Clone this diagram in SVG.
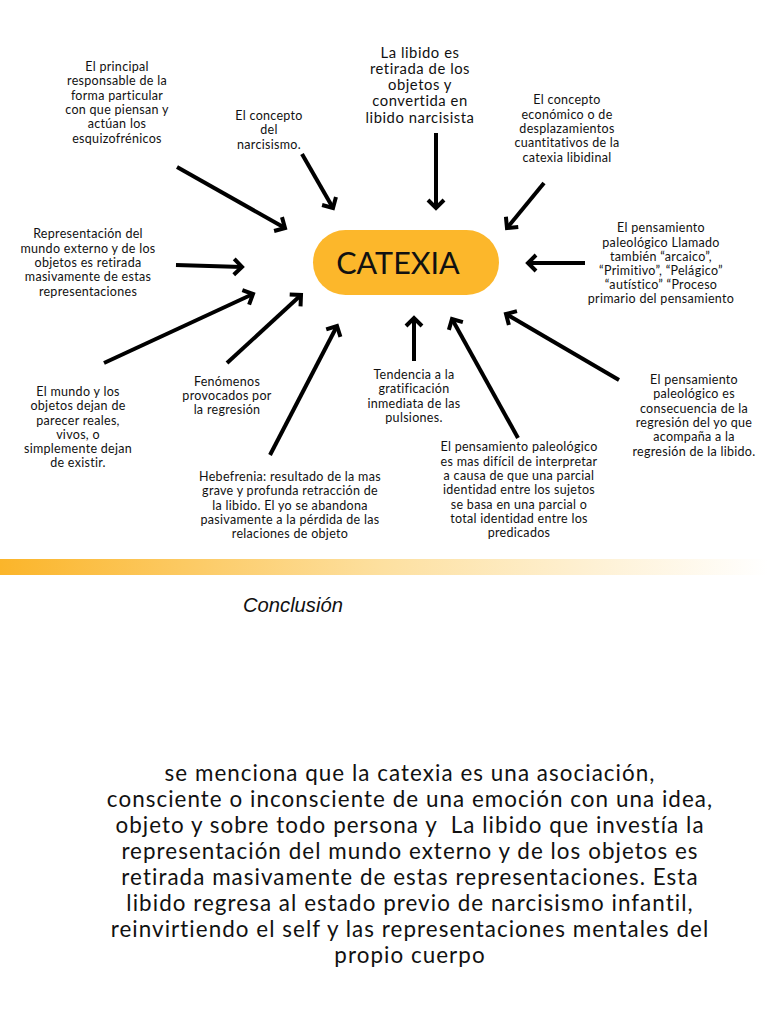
<svg xmlns="http://www.w3.org/2000/svg" width="768" height="1024" viewBox="0 0 768 1024">
<defs>
<marker id="ah" markerUnits="userSpaceOnUse" markerWidth="24" markerHeight="24" refX="12" refY="12" orient="auto" viewBox="0 0 24 24">
<path d="M4,4 L12,12 L4,20" fill="none" stroke="#000" stroke-width="4" stroke-linecap="butt" stroke-linejoin="miter"/>
</marker>
<linearGradient id="band" x1="0" y1="0" x2="1" y2="0">
<stop offset="0" stop-color="#fbb52a"/>
<stop offset="0.5" stop-color="#fde0a0"/>
<stop offset="1" stop-color="#ffffff"/>
</linearGradient>
</defs>
<style>
text{font-variant-ligatures:none}
.t{font-family:Lato,"Noto Sans",sans-serif;font-size:12.5px;letter-spacing:0.3px;fill:#111;text-anchor:middle}
.tl{font-family:Lato,"Noto Sans",sans-serif;font-size:14.8px;letter-spacing:0.55px;fill:#111;text-anchor:middle}
.c{stroke:#000;stroke-width:4;fill:none;marker-end:url(#ah)}
.body{font-family:Lato,"Noto Sans",sans-serif;font-size:22.4px;letter-spacing:1.05px;fill:#111;text-anchor:middle}
</style>
<rect width="768" height="1024" fill="#fff"/>

<g id="connectors">
<line class="c" x1="177" y1="167" x2="285" y2="228"/>
<line class="c" x1="302" y1="154" x2="333" y2="208"/>
<line class="c" x1="436" y1="133" x2="436" y2="208"/>
<line class="c" x1="544" y1="183" x2="507" y2="228"/>
<line class="c" x1="585" y1="263" x2="528" y2="263"/>
<line class="c" x1="176" y1="265" x2="242" y2="267"/>
<line class="c" x1="104" y1="363" x2="253" y2="294"/>
<line class="c" x1="227" y1="363" x2="301" y2="295"/>
<line class="c" x1="270" y1="455" x2="337" y2="326"/>
<line class="c" x1="414" y1="361" x2="414" y2="318"/>
<line class="c" x1="518" y1="438" x2="452" y2="319"/>
<line class="c" x1="619" y1="380" x2="506" y2="314"/>
</g>

<g id="catexia">
<rect x="313" y="230" width="186" height="65" rx="32.5" fill="#fcb72b"/>
<text x="398" y="274" font-family="Lato,'Noto Sans',sans-serif" font-size="30.5" fill="#111" text-anchor="middle">CATEXIA</text>
</g>

<g id="n-principal">
<text class="t" x="117" y="70.5">El principal</text>
<text class="t" x="117" y="85">responsable de la</text>
<text class="t" x="117" y="99.5">forma particular</text>
<text class="t" x="117" y="114">con que piensan y</text>
<text class="t" x="117" y="128">actúan los</text>
<text class="t" x="117" y="142.5">esquizofrénicos</text>
</g>

<g id="n-concepto-narcisismo">
<text class="t" x="269" y="120">El concepto</text>
<text class="t" x="269" y="134">del</text>
<text class="t" x="269" y="149">narcisismo.</text>
</g>

<g id="n-libido">
<text class="tl" x="420" y="58">La libido es</text>
<text class="tl" x="420" y="74">retirada de los</text>
<text class="tl" x="420" y="90">objetos y</text>
<text class="tl" x="420" y="106">convertida en</text>
<text class="tl" x="420" y="123">libido narcisista</text>
</g>

<g id="n-economico">
<text class="t" x="567" y="104">El concepto</text>
<text class="t" x="567" y="118.5">económico o de</text>
<text class="t" x="567" y="133">desplazamientos</text>
<text class="t" x="567" y="147">cuantitativos de la</text>
<text class="t" x="567" y="161.5">catexia libidinal</text>
</g>

<g id="n-paleologico-llamado">
<text class="t" x="661" y="232">El pensamiento</text>
<text class="t" x="661" y="246.5">paleológico Llamado</text>
<text class="t" x="661" y="261">también “arcaico”,</text>
<text class="t" x="661" y="275">“Primitivo”, “Pelágico”</text>
<text class="t" x="661" y="289">“autístico” “Proceso</text>
<text class="t" x="661" y="303">primario del pensamiento</text>
</g>

<g id="n-representacion">
<text class="t" x="88" y="238">Representación del</text>
<text class="t" x="88" y="253">mundo externo y de los</text>
<text class="t" x="88" y="267">objetos es retirada</text>
<text class="t" x="88" y="281">masivamente de estas</text>
<text class="t" x="88" y="296">representaciones</text>
</g>

<g id="n-mundo">
<text class="t" x="78" y="396">El mundo y los</text>
<text class="t" x="78" y="410">objetos dejan de</text>
<text class="t" x="78" y="425">parecer reales,</text>
<text class="t" x="78" y="439">vivos, o</text>
<text class="t" x="78" y="453">simplemente dejan</text>
<text class="t" x="78" y="467">de existir.</text>
</g>

<g id="n-fenomenos">
<text class="t" x="227" y="386">Fenómenos</text>
<text class="t" x="227" y="400">provocados por</text>
<text class="t" x="227" y="414">la regresión</text>
</g>

<g id="n-hebefrenia">
<text class="t" x="290" y="481">Hebefrenia: resultado de la mas</text>
<text class="t" x="290" y="495">grave y profunda retracción de</text>
<text class="t" x="290" y="510">la libido. El yo se abandona</text>
<text class="t" x="290" y="524">pasivamente a la pérdida de las</text>
<text class="t" x="290" y="538">relaciones de objeto</text>
</g>

<g id="n-tendencia">
<text class="t" x="414" y="379">Tendencia a la</text>
<text class="t" x="414" y="393">gratificación</text>
<text class="t" x="414" y="408">inmediata de las</text>
<text class="t" x="414" y="422">pulsiones.</text>
</g>

<g id="n-dificil">
<text class="t" x="519" y="451">El pensamiento paleológico</text>
<text class="t" x="519" y="465.5">es mas difícil de interpretar</text>
<text class="t" x="519" y="480">a causa de que una parcial</text>
<text class="t" x="519" y="494">identidad entre los sujetos</text>
<text class="t" x="519" y="509">se basa en una parcial o</text>
<text class="t" x="519" y="523">total identidad entre los</text>
<text class="t" x="519" y="537">predicados</text>
</g>

<g id="n-consecuencia">
<text class="t" x="694" y="384">El pensamiento</text>
<text class="t" x="694" y="398">paleológico es</text>
<text class="t" x="694" y="413">consecuencia de la</text>
<text class="t" x="694" y="427">regresión del yo que</text>
<text class="t" x="694" y="441">acompaña a la</text>
<text class="t" x="694" y="456">regresión de la libido.</text>
</g>

<rect x="0" y="559" width="768" height="16" fill="url(#band)"/>

<text x="243" y="612" font-family="'Liberation Sans',Arial,sans-serif" font-style="italic" font-size="20.2" fill="#111">Conclusión</text>

<g id="conclusion">
<text class="body" x="410" y="781">se menciona que la catexia es una asociación,</text>
<text class="body" x="410" y="807">consciente o inconsciente de una emoción con una idea,</text>
<text class="body" x="410" y="833" xml:space="preserve">objeto y sobre todo persona y  La libido que investía la</text>
<text class="body" x="410" y="859">representación del mundo externo y de los objetos es</text>
<text class="body" x="410" y="885">retirada masivamente de estas representaciones. Esta</text>
<text class="body" x="410" y="911">libido regresa al estado previo de narcisismo infantil,</text>
<text class="body" x="410" y="937">reinvirtiendo el self y las representaciones mentales del</text>
<text class="body" x="410" y="963">propio cuerpo</text>
</g>
</svg>
